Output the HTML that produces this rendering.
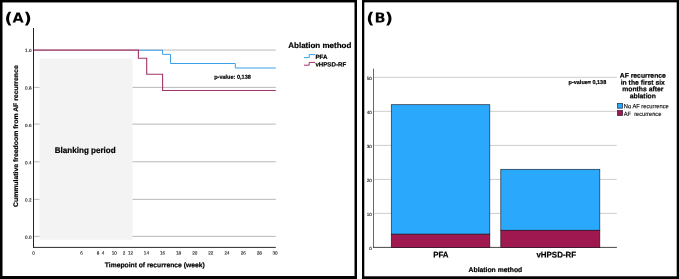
<!DOCTYPE html>
<html><head><meta charset="utf-8">
<style>
html,body{margin:0;padding:0;background:#fff;}
svg{display:block;}
text{font-family:"Liberation Sans",sans-serif;fill:#1a1a1a;}
.b{font-weight:bold;fill:#000;stroke:#000;stroke-width:0.2px;}
.t{fill:#111;stroke:#111;stroke-width:0.1px;}
.r{fill:#000;stroke:#000;stroke-width:0.12px;}
.dj{font-family:"DejaVu Sans",sans-serif;font-weight:bold;fill:#000;}
</style></head><body>
<svg width="679" height="279" viewBox="0 0 679 279">
<rect x="0" y="0" width="679" height="279" fill="#fff"/>
<!-- panel frames -->
<rect x="1.25" y="1.2" width="354.5" height="276.2" fill="#fff" stroke="#000" stroke-width="2.5"/>
<rect x="0" y="276" width="357" height="3" fill="#000"/>
<rect x="363.15" y="1.2" width="314.7" height="276.5" fill="#fff" stroke="#000" stroke-width="2.3"/>
<rect x="362" y="276.5" width="317" height="2.5" fill="#000"/>

<!-- Panel A -->
<text class="dj" x="4.5" y="23.5" font-size="15.4" textLength="8.3" lengthAdjust="spacingAndGlyphs" transform="rotate(0.03 4.5 23.5)">(</text>
<text class="dj" x="12.6" y="22.5" font-size="13.6" textLength="11.2" lengthAdjust="spacingAndGlyphs" transform="rotate(0.03 12.6 22.5)">A</text>
<text class="dj" x="23.6" y="23.5" font-size="15.4" textLength="8.3" lengthAdjust="spacingAndGlyphs" transform="rotate(0.03 23.6 23.5)">)</text>
<g stroke="#a6a6a6" stroke-width="0.8">
<line x1="34" y1="50.05" x2="275.8" y2="50.05"/>
<line x1="34" y1="87.40" x2="275.8" y2="87.40"/>
<line x1="34" y1="124.10" x2="275.8" y2="124.10"/>
<line x1="34" y1="161.80" x2="275.8" y2="161.80"/>
<line x1="34" y1="199.35" x2="275.8" y2="199.35"/>
<line x1="34" y1="236.35" x2="275.8" y2="236.35"/>
</g>
<rect x="39.5" y="58.5" width="93.1" height="181.2" fill="#f3f3f3"/>
<line x1="33.5" y1="28" x2="33.5" y2="247.9" stroke="#222" stroke-width="1"/>
<line x1="33" y1="247.4" x2="275.8" y2="247.4" stroke="#2a2a2a" stroke-width="1"/>
<polyline fill="none" stroke="#3aa0ea" stroke-width="1" points="138.4,50.2 162.6,50.2 162.6,54.35 170.5,54.35 170.5,63.5 235.3,63.5 235.3,68 275.8,68"/>
<polyline fill="none" stroke="#a2336a" stroke-width="1.1" points="34,50.1 138.4,50.1 138.4,58.2 146.7,58.2 146.7,74.3 162.6,74.3 162.6,90.45 275.8,90.45"/>
<text class="t" x="31.5" y="52.0" font-size="4.6" text-anchor="end" transform="rotate(0.03 31.5 52.0)">1.0</text>
<text class="t" x="31.5" y="89.5" font-size="4.6" text-anchor="end" transform="rotate(0.03 31.5 89.5)">0.8</text>
<text class="t" x="31.5" y="127.0" font-size="4.6" text-anchor="end" transform="rotate(0.03 31.5 127.0)">0.6</text>
<text class="t" x="31.5" y="164.2" font-size="4.6" text-anchor="end" transform="rotate(0.03 31.5 164.2)">0.4</text>
<text class="t" x="31.5" y="201.6" font-size="4.6" text-anchor="end" transform="rotate(0.03 31.5 201.6)">0.2</text>
<text class="t" x="31.5" y="238.8" font-size="4.6" text-anchor="end" transform="rotate(0.03 31.5 238.8)">0.0</text>
<text class="t" x="33.5" y="254.6" font-size="4.6" text-anchor="middle" transform="rotate(0.03 33.5 254.6)">0</text>
<text class="t" x="81.5" y="254.6" font-size="4.6" text-anchor="middle" transform="rotate(0.03 81.5 254.6)">6</text>
<text class="t" x="98" y="254.6" font-size="4.6" text-anchor="middle" transform="rotate(0.03 98 254.6)">8</text>
<text class="t" x="103" y="254.6" font-size="4.6" text-anchor="middle" transform="rotate(0.03 103 254.6)">4</text>
<text class="t" x="114.3" y="254.6" font-size="4.6" text-anchor="middle" transform="rotate(0.03 114.3 254.6)">10</text>
<text class="t" x="124" y="254.6" font-size="4.6" text-anchor="middle" transform="rotate(0.03 124 254.6)">2</text>
<text class="t" x="130.6" y="254.6" font-size="4.6" text-anchor="middle" transform="rotate(0.03 130.6 254.6)">12</text>
<text class="t" x="146.4" y="254.6" font-size="4.6" text-anchor="middle" transform="rotate(0.03 146.4 254.6)">14</text>
<text class="t" x="162.6" y="254.6" font-size="4.6" text-anchor="middle" transform="rotate(0.03 162.6 254.6)">16</text>
<text class="t" x="178.6" y="254.6" font-size="4.6" text-anchor="middle" transform="rotate(0.03 178.6 254.6)">18</text>
<text class="t" x="194.7" y="254.6" font-size="4.6" text-anchor="middle" transform="rotate(0.03 194.7 254.6)">20</text>
<text class="t" x="210.8" y="254.6" font-size="4.6" text-anchor="middle" transform="rotate(0.03 210.8 254.6)">22</text>
<text class="t" x="227" y="254.6" font-size="4.6" text-anchor="middle" transform="rotate(0.03 227 254.6)">24</text>
<text class="t" x="243.3" y="254.6" font-size="4.6" text-anchor="middle" transform="rotate(0.03 243.3 254.6)">26</text>
<text class="t" x="259.3" y="254.6" font-size="4.6" text-anchor="middle" transform="rotate(0.03 259.3 254.6)">28</text>
<text class="t" x="275" y="254.6" font-size="4.6" text-anchor="middle" transform="rotate(0.03 275 254.6)">30</text>
<text class="b" x="54.8" y="152.9" font-size="8.35" textLength="60.9" lengthAdjust="spacingAndGlyphs" transform="rotate(0.03 54.8 152.9)">Blanking period</text>
<text class="b" x="104.8" y="267.2" font-size="6.8" textLength="99.9" lengthAdjust="spacingAndGlyphs" transform="rotate(0.03 104.8 267.2)">Timepoint of recurrence (week)</text>
<text class="b" x="0" y="0" font-size="6.6" textLength="141.7" lengthAdjust="spacingAndGlyphs" transform="translate(18,207) rotate(-90.03)">Cummulative freedoom from AF recurrence</text>
<text class="b" x="214.2" y="78.8" font-size="5.6" textLength="36.6" lengthAdjust="spacingAndGlyphs" transform="rotate(0.03 214.2 78.8)">p-value: 0,138</text>
<text class="b" x="288.3" y="47.9" font-size="7.9" textLength="63" lengthAdjust="spacingAndGlyphs" transform="rotate(0.03 288.3 47.9)">Ablation method</text>
<polyline fill="none" stroke="#3aa0ea" stroke-width="1" points="304,57.6 309.2,57.6 309.2,54.6 315,54.6"/>
<polyline fill="none" stroke="#a2336a" stroke-width="1" points="304,65.2 309.2,65.2 309.2,62.4 315,62.4"/>
<text class="b" x="315.4" y="58.9" font-size="6.1" textLength="12" lengthAdjust="spacingAndGlyphs" transform="rotate(0.03 315.4 58.9)">PFA</text>
<text class="b" x="315.4" y="66.6" font-size="6.1" textLength="30.8" lengthAdjust="spacingAndGlyphs" transform="rotate(0.03 315.4 66.6)">vHPSD-RF</text>
<!-- Panel B -->
<text class="dj" x="366.3" y="23.5" font-size="15.4" textLength="8.3" lengthAdjust="spacingAndGlyphs" transform="rotate(0.03 366.3 23.5)">(</text>
<text class="dj" x="374.4" y="22.4" font-size="13.6" textLength="11.1" lengthAdjust="spacingAndGlyphs" transform="rotate(0.03 374.4 22.4)">B</text>
<text class="dj" x="384.8" y="23.5" font-size="15.4" textLength="8.3" lengthAdjust="spacingAndGlyphs" transform="rotate(0.03 384.8 23.5)">)</text>
<g stroke="#b8b8b8" stroke-width="0.7">
<line x1="373.5" y1="77.35" x2="616.8" y2="77.35"/>
<line x1="373.5" y1="111.35" x2="616.8" y2="111.35"/>
<line x1="373.5" y1="145.40" x2="616.8" y2="145.40"/>
<line x1="373.5" y1="179.40" x2="616.8" y2="179.40"/>
<line x1="373.5" y1="213.40" x2="616.8" y2="213.40"/>
</g>
<line x1="373.5" y1="68.7" x2="373.5" y2="247.8" stroke="#555" stroke-width="0.9"/>
<line x1="373.2" y1="247.4" x2="616.9" y2="247.4" stroke="#333" stroke-width="0.9"/>
<rect x="391.3" y="104.7" width="98.5" height="129.5" fill="#2aa9fc" stroke="#1c2a38" stroke-width="0.7"/>
<rect x="391.3" y="234.2" width="98.5" height="13.3" fill="#9f184f" stroke="#2a1020" stroke-width="0.7"/>
<rect x="500.8" y="169.3" width="99" height="61" fill="#2aa9fc" stroke="#1c2a38" stroke-width="0.7"/>
<rect x="500.8" y="230.3" width="99" height="17.2" fill="#9f184f" stroke="#2a1020" stroke-width="0.7"/>
<text class="t" x="371.8" y="79.9" font-size="4.5" text-anchor="end" transform="rotate(0.03 371.8 79.9)">50</text>
<text class="t" x="371.8" y="113.9" font-size="4.5" text-anchor="end" transform="rotate(0.03 371.8 113.9)">40</text>
<text class="t" x="371.8" y="147.9" font-size="4.5" text-anchor="end" transform="rotate(0.03 371.8 147.9)">30</text>
<text class="t" x="371.8" y="181.9" font-size="4.5" text-anchor="end" transform="rotate(0.03 371.8 181.9)">20</text>
<text class="t" x="371.8" y="215.9" font-size="4.5" text-anchor="end" transform="rotate(0.03 371.8 215.9)">10</text>
<text class="t" x="371.8" y="249.9" font-size="4.5" text-anchor="end" transform="rotate(0.03 371.8 249.9)">0</text>
<text class="b" x="433.2" y="257.6" font-size="8.3" textLength="15.4" lengthAdjust="spacingAndGlyphs" transform="rotate(0.03 433.2 257.6)">PFA</text>
<text class="b" x="536.4" y="257.6" font-size="8.3" textLength="39.8" lengthAdjust="spacingAndGlyphs" transform="rotate(0.03 536.4 257.6)">vHPSD-RF</text>
<text class="b" x="468.6" y="272" font-size="6.8" textLength="53.6" lengthAdjust="spacingAndGlyphs" transform="rotate(0.03 468.6 272)">Ablation method</text>
<text class="b" x="568.6" y="84.0" font-size="5.6" textLength="37.6" lengthAdjust="spacingAndGlyphs" transform="rotate(0.03 568.6 84.0)">p-value= 0,138</text>
<text class="b" x="642.8" y="77.8" font-size="6.8" text-anchor="middle" transform="rotate(0.03 642.8 77.8)">AF recurrence</text>
<text class="b" x="642.8" y="84.7" font-size="6.8" text-anchor="middle" transform="rotate(0.03 642.8 84.7)">in the first six</text>
<text class="b" x="642.8" y="91.3" font-size="6.8" text-anchor="middle" transform="rotate(0.03 642.8 91.3)">months after</text>
<text class="b" x="642.8" y="98.2" font-size="6.8" text-anchor="middle" transform="rotate(0.03 642.8 98.2)">ablation</text>
<rect x="617.6" y="103.4" width="4.9" height="4.8" fill="#2aa9fc" stroke="#1c2a48" stroke-width="0.7"/>
<rect x="617.6" y="110.6" width="4.9" height="4.8" fill="#9f184f" stroke="#2a1030" stroke-width="0.7"/>
<text class="r" x="623.8" y="108.3" font-size="6.1" textLength="45" lengthAdjust="spacingAndGlyphs" transform="rotate(0.03 623.8 108.3)">No AF recurrence</text>
<text class="r" x="623.8" y="115.6" font-size="6.1" textLength="37.5" lengthAdjust="spacingAndGlyphs" xml:space="preserve" transform="rotate(0.03 623.8 115.6)">AF  recurrence</text>
</svg>
</body></html>
